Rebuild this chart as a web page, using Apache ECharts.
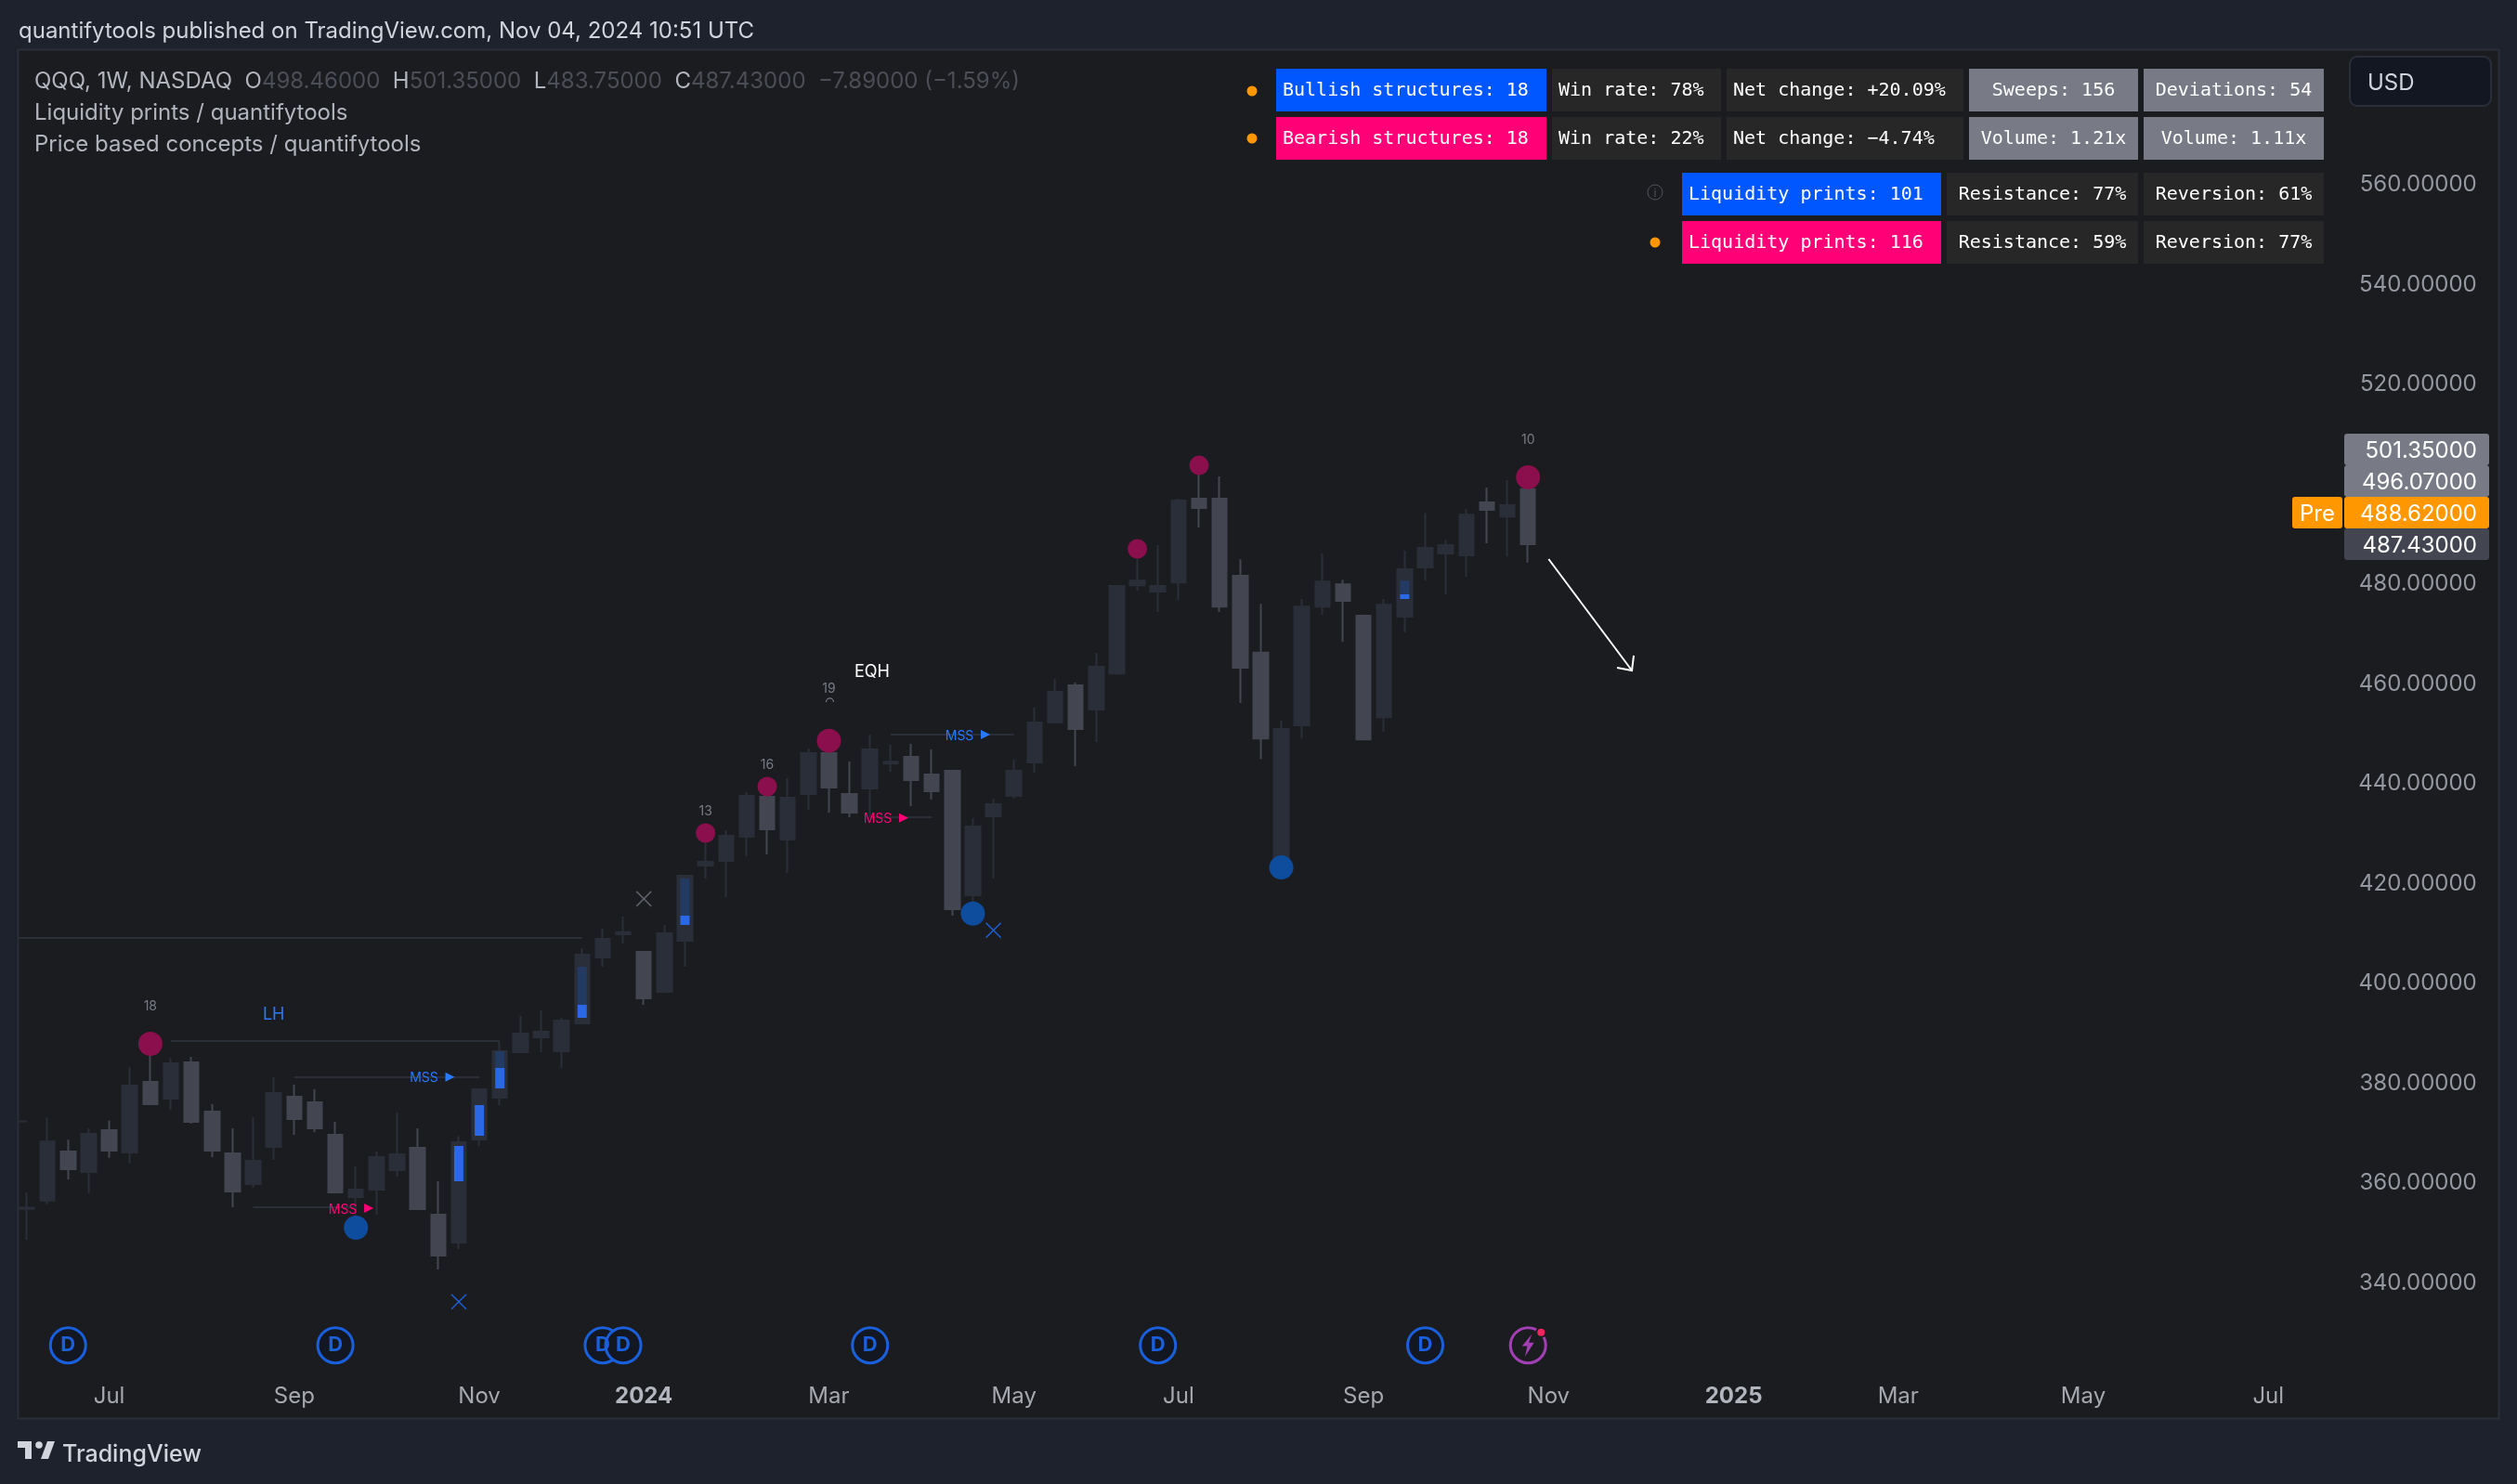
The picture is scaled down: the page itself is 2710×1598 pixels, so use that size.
<!DOCTYPE html>
<html>
<head>
<meta charset="utf-8">
<title>QQQ 1W</title>
<style>html,body{margin:0;padding:0;background:#1e222d}#chart{width:2710px;height:1598px}</style>
<script src="https://cdn.jsdelivr.net/npm/echarts@6/dist/echarts.min.js"></script>
</head>
<body>
<div id="chart"></div>
<script>
// ---------- categories (weekly bars, first entry only carries the clipped stub on the left edge)
const weekDates = [
'2023-05-29','2023-06-05','2023-06-12','2023-06-19','2023-06-26','2023-07-03','2023-07-10','2023-07-17','2023-07-24','2023-07-31',
'2023-08-07','2023-08-14','2023-08-21','2023-08-28','2023-09-04','2023-09-11','2023-09-18','2023-09-25','2023-10-02','2023-10-09',
'2023-10-16','2023-10-23','2023-10-30','2023-11-06','2023-11-13','2023-11-20','2023-11-27','2023-12-04','2023-12-11','2023-12-18','2023-12-25',
'2024-01-01','2024-01-08','2024-01-15','2024-01-22','2024-01-29','2024-02-05','2024-02-12','2024-02-19','2024-02-26','2024-03-04',
'2024-03-11','2024-03-18','2024-03-25','2024-04-01','2024-04-08','2024-04-15','2024-04-22','2024-04-29','2024-05-06','2024-05-13',
'2024-05-20','2024-05-27','2024-06-03','2024-06-10','2024-06-17','2024-06-24','2024-07-01','2024-07-08','2024-07-15','2024-07-22',
'2024-07-29','2024-08-05','2024-08-12','2024-08-19','2024-08-26','2024-09-02','2024-09-09','2024-09-16','2024-09-23','2024-09-30',
'2024-10-07','2024-10-14','2024-10-21','2024-10-28','2024-11-04','2024-11-11','2024-11-18','2024-11-25','2024-12-02','2024-12-09',
'2024-12-16','2024-12-23','2024-12-30','2025-01-06','2025-01-13','2025-01-20','2025-01-27','2025-02-03','2025-02-10','2025-02-17',
'2025-02-24','2025-03-03','2025-03-10','2025-03-17','2025-03-24','2025-03-31','2025-04-07','2025-04-14','2025-04-21','2025-04-28',
'2025-05-05','2025-05-12','2025-05-19','2025-05-26','2025-06-02','2025-06-09','2025-06-16','2025-06-23','2025-06-30','2025-07-07',
'2025-07-14','2025-07-21','2025-07-28'];

// ---------- tick labels
const xTickLabels = {'2023-07-03':'Jul','2023-09-04':'Sep','2023-11-06':'Nov','2024-01-01':'2024','2024-03-04':'Mar','2024-05-06':'May','2024-07-01':'Jul','2024-09-02':'Sep','2024-11-04':'Nov','2025-01-06':'2025','2025-03-03':'Mar','2025-05-05':'May','2025-07-07':'Jul'};
const yTickValues = [340,360,380,400,420,440,460,480,520,540,560];

// ---------- OHLC, bars 0..73
const opens = [354.3,355.97,365.77,361.67,370.05,365.58,379.72,376.37,383.63,373.77,365.39,359.26,366.70,376.74,375.63,369.12,356.65,358.14,362.05,366.51,353.12,347.53,368.19,376.56,385.67,388.65,385.86,391.44,404.65,409.3,405.77,397.76,407.99,423.07,423.99,428.83,436.83,428.27,437.39,445.58,437.39,438.51,443.47,444.83,441.30,442.04,417.11,432.93,437.02,443.72,451.72,459.16,454.32,461.55,479.22,477.96,479.78,496.58,496.58,481.10,465.70,423.12,451.17,474.94,479.41,473.12,452.80,472.93,482.80,485.57,485.19,495.82,492.99,498.46];
const closes = [354.5,367.75,362.23,369.30,365.95,378.98,375.25,383.44,371.72,365.95,357.77,363.91,377.49,372.28,370.42,357.58,358.14,364.65,365.21,354.23,344.93,367.63,378.23,385.86,389.39,389.77,391.99,405.21,408.37,409.7,396.46,409.49,421.02,423.81,429.02,437.02,430.32,436.65,445.58,438.69,433.67,446.32,443.84,440.18,437.95,414.32,430.88,435.34,442.04,451.72,457.86,450.41,462.88,479.09,480.16,479.09,496.20,494.69,474.94,462.68,448.53,450.41,474.94,479.97,476.07,448.34,475.32,482.43,486.70,487.27,493.37,494.31,495.26,487.43];
const lows = [348.09,355.22,360.19,357.40,364.53,363.41,375.07,374.14,371.35,364.65,354.60,358.51,364.09,369.12,369.67,357.40,350.51,353.12,360.74,354.23,342.14,346.23,366.88,375.07,385.67,385.67,382.51,391.44,402.79,407.44,395.16,397.76,402.79,420.46,416.74,424.92,425.30,421.58,434.23,433.67,432.74,432.74,441.86,434.97,436.27,413.02,413.45,420.46,436.46,441.67,451.72,442.97,447.81,461.36,478.15,473.87,476.26,490.79,473.87,455.63,444.44,422.68,448.53,473.31,467.90,448.15,449.85,469.78,480.16,477.46,480.92,487.65,485.00,483.75];
const highs = [357.52,372.59,368.12,370.42,371.97,382.63,387.47,384.50,384.74,375.25,370.42,372.65,380.65,379.16,378.23,371.72,362.79,365.77,373.58,370.42,359.81,368.87,378.42,387.78,392.93,394.05,392.56,406.51,410.42,412.84,405.95,411.16,421.20,429.58,430.13,437.76,438.88,440.55,446.51,448.06,443.90,449.30,447.25,447.44,446.32,442.04,432.55,436.46,444.27,454.69,460.46,459.72,465.67,479.28,486.51,487.27,496.58,503.24,501.04,484.44,475.51,452.05,476.45,485.57,480.29,473.31,476.45,486.14,493.68,488.27,494.50,498.78,500.29,501.35];

// ---------- overlay marks [bar, price, ...]
const redPrints = [[6,387.35,26],[33,429.58,21],[36,438.88,21],[39,448.06,26],[54,486.51,21],[57,503.24,21],[73,500.85,26]];
const bluePrints = [[16,350.51,26],[46,413.45,26],[61,422.68,26]];
const innerBright = [[21,359.81,366.88],[22,368.93,375.07],[23,378.42,382.51],[27,392.56,395.16],[32,411.16,413.02],[67,476.45,477.40]];
const innerDim = [[23,382.51,385.86],[27,395.16,402.79],[32,413.02,420.46],[67,477.40,480.16]];
const levelLines = [[-1,0,371.8],[-1,27,408.56],[7,23,387.91],[13,22,380.65],[11,16,354.60],[42,48,449.30],[41,44,432.74]];
const grayCrosses = [[30,416.4]];
const blueCrosses = [[21,335.69],[47,410.10]];
const countLabels = [[6,395.35,'18'],[33,434.4,'13'],[36,443.7,'16'],[39,458.97,'19'],[73,508.84,'10']];
const mssBlue = [[19.31,380.7],[45.35,449.3]];
const mssPink = [[15.36,354.4],[41.37,432.6]];
const wordLabels = [[12,393.8,'LH','#2979ff'],[41.1,462.32,'EQH','#ffffff']];
const arrowLine = [[74,484.47],[78.05,462.14]];
const dividendBars = [2,15,28,29,41,55,68];
const earningsBar = 73;
const eventRowPrice = 326.95;

// ---------- text content
const headerText = 'quantifytools published on TradingView.com, Nov 04, 2024 10:51 UTC';
const legendLine2 = 'Liquidity prints / quantifytools';
const legendLine3 = 'Price based concepts / quantifytools';
const statsRow1 = ['Bullish structures: 18','Win rate: 78%','Net change: +20.09%','Sweeps: 156','Deviations: 54'];
const statsRow2 = ['Bearish structures: 18','Win rate: 22%','Net change: \u22124.74%','Volume: 1.21x','Volume: 1.11x'];
const printsRow1 = ['Liquidity prints: 101','Resistance: 77%','Reversion: 61%'];
const printsRow2 = ['Liquidity prints: 116','Resistance: 59%','Reversion: 77%'];
const priceTags = ['501.35000','496.07000','488.62000','487.43000'];

// ---------- layout
const UI = 'Inter, Roboto, sans-serif';
const MONO = '"DejaVu Sans Mono", monospace';
const band = 22.14;
const gridLeft = 29 - 1.5 * band;
const pxPerUnit = 5.375;
const gridTop = 196 - 20 * pxPerUnit;
const gridHeight = 260 * pxPerUnit;
const bar = i => i + 1;
const textDrop = 3;

const graphic = [];
const rect = (x,y,w,h,fill,z,extra) => graphic.push(Object.assign({type:'rect',shape:{x,y,width:w,height:h,r:(extra&&extra.r)||0},style:{fill,stroke:extra&&extra.stroke,lineWidth:extra&&extra.lw},z,silent:true}));
const text = (x,y,t,font,fill,align,z) => graphic.push({type:'text',x,y:y+1.5,z:z||80,silent:true,style:{text:t,font,fill,align:align||'left',verticalAlign:'middle'}});
const dot = (x,y,r,fill) => graphic.push({type:'circle',shape:{cx:x,cy:y,r},style:{fill},z:80,silent:true});

rect(20,54,2670,1473,'#1b1c1f',-2);
rect(0,54,19,1473,'#1e222d',60);
rect(19.5,53.5,2671,1474,'transparent',61,{stroke:'#2a2e39',lw:2});

text(20,32,headerText,'24px '+UI,'#d1d4dc');
graphic.push({type:'text',x:37,y:88,z:80,silent:true,style:{
  text:'{a|QQQ, 1W, NASDAQ  O}{b|498.46000}{a|  H}{b|501.35000}{a|  L}{b|483.75000}{a|  C}{b|487.43000}{b|  \u22127.89000 (\u22121.59%)}',
  verticalAlign:'middle',font:'24px '+UI,
  rich:{a:{font:'24px '+UI,fill:'#b2b5be'},b:{font:'24px '+UI,fill:'#4c4e57'}}}});
text(37,120,legendLine2,'24px '+UI,'#b2b5be');
text(37,154,legendLine3,'24px '+UI,'#b2b5be');

const BLUE='#0057ff',PINK='#ff0077',CELL='#272727',GREY='#787b86';
const monoFont='20px '+MONO;
const cols=[[1374,291,BLUE],[1671,182,CELL],[1859,255,CELL],[2120,182,GREY],[2308,194,GREY]];
[[statsRow1,74,BLUE],[statsRow2,126,PINK]].forEach(([row,y,head])=>{
  row.forEach((t,i)=>{
    const c=cols[i];
    rect(c[0],y,c[1],46,i===0?head:c[2],70);
    if(i<3) text(c[0]+7,y+22,t,monoFont,'#ffffff','left');
    else text(c[0]+c[1]/2,y+22,t,monoFont,'#ffffff','center');
  });
});
const cols2=[[1811,279],[2096,206],[2308,194]];
[[printsRow1,186,BLUE],[printsRow2,238,PINK]].forEach(([row,y,head])=>{
  row.forEach((t,i)=>{
    const c=cols2[i];
    rect(c[0],y,c[1],46,i===0?head:CELL,70);
    if(i===0) text(c[0]+7,y+22,t,monoFont,'#ffffff','left');
    else text(c[0]+c[1]/2,y+22,t,monoFont,'#ffffff','center');
  });
});
dot(1348,98,5.5,'#ff9800');dot(1348,149,5.5,'#ff9800');dot(1782,261,5.5,'#ff9800');
graphic.push({type:'circle',shape:{cx:1782,cy:207,r:8},style:{fill:'transparent',stroke:'#50535e',lineWidth:1},z:80,silent:true});
text(1782,207,'i','12px '+UI,'#50535e','center');

rect(2530,61,152,53,'#131722',70,{stroke:'#2a2e39',lw:2,r:8});
text(2549,88,'USD','24px '+UI,'#d1d4dc');

const tagFills=['#787b86','#787b86','#ff9800','#434651'];
priceTags.forEach((t,i)=>{
  const y=467+i*34;
  rect(2524,y,156,34,tagFills[i],72,{r:3});
  text(2667,y+17,t,'24px '+UI,'#ffffff','right',82);
});
rect(2468,535,54,34,'#ff9800',72,{r:3});
text(2495,552,'Pre','24px '+UI,'#ffffff','center',82);

// TradingView logo
graphic.push({type:'polygon',z:80,silent:true,shape:{points:[[19,1552],[34,1552],[34,1571],[27,1571],[27,1559],[19,1559]]},style:{fill:'#d1d4dc'}});
graphic.push({type:'polygon',z:80,silent:true,shape:{points:[[51,1552],[59,1552],[52,1571],[44,1571]]},style:{fill:'#d1d4dc'}});
dot(42,1556,3.8,'#d1d4dc');
text(67,1565,'TradingView','500 25px '+UI,'#d1d4dc');

// ---------- custom renderers
// category coords snap to whole bars, so a fractional bar position adds its remainder in bar widths
const coordAt = (api,i,p) => { const f=Math.floor(i), c=api.coord([f,p]); return [c[0]+(i-f)*band, c[1]]; };
const rangeRender = fill => (params,api)=>{
  const a=api.coord([api.value(0),api.value(1)]), b=api.coord([api.value(0),api.value(2)]);
  return {type:'rect',shape:{x:a[0]-5,y:b[1],width:10,height:a[1]-b[1]},style:{fill}};
};
const crossRender = stroke => (params,api)=>{
  const c=api.coord([api.value(0),api.value(1)]),s=8;
  return {type:'group',children:[
    {type:'line',shape:{x1:c[0]-s,y1:c[1]-s,x2:c[0]+s,y2:c[1]+s},style:{stroke,lineWidth:1.5}},
    {type:'line',shape:{x1:c[0]-s,y1:c[1]+s,x2:c[0]+s,y2:c[1]-s},style:{stroke,lineWidth:1.5}}]};
};
const mssRender = fill => (params,api)=>{
  const c=coordAt(api,api.value(0),api.value(1));
  return {type:'group',children:[
    {type:'text',style:{x:c[0],y:c[1]+1.5,text:'MSS',font:'14px '+UI,fill,align:'center',verticalAlign:'middle'}},
    {type:'polygon',shape:{points:[[c[0]+23,c[1]-5],[c[0]+33,c[1]],[c[0]+23,c[1]+5]]},style:{fill}}]};
};
const base = {type:'custom',coordinateSystem:'cartesian2d',clip:true,silent:true,animation:false};

const option = {
  backgroundColor:'#1e222d',
  animation:false,
  graphic:{elements:graphic},
  grid:{left:gridLeft,top:gridTop,width:band*weekDates.length,height:gridHeight,containLabel:false,outerBoundsMode:'none'},
  xAxis:{type:'category',data:weekDates,boundaryGap:true,
    axisLine:{show:false},axisTick:{show:false},splitLine:{show:false},
    axisLabel:{interval:(i,v)=>v in xTickLabels,margin:6,hideOverlap:false,
      formatter:v=>{const t=xTickLabels[v];if(!t)return '';return /^\d+$/.test(t)?'{y|'+t+'}':t;},
      color:'#a6a8b0',fontFamily:UI,fontSize:24,
      rich:{y:{fontFamily:UI,fontSize:24,fontWeight:'bold',color:'#b2b5be'}}}},
  yAxis:{type:'value',position:'right',min:320,max:580,interval:20,scale:true,
    axisLine:{show:false},axisTick:{show:false},splitLine:{show:false},
    axisLabel:{customValues:yTickValues,margin:147,align:'right',verticalAlign:'top',lineHeight:6,color:'#9598a1',fontFamily:UI,fontSize:24,formatter:v=>v.toFixed(5)}},
  series:[
    {type:'candlestick',barWidth:16,silent:true,z:2,
      data:[['-','-','-','-']].concat(opens.map((o,i)=>[o,closes[i],lows[i],highs[i]])),
      itemStyle:{color:'#2a2e39',color0:'#434651',borderColor:'#2a2e39',borderColor0:'#434651',borderWidth:2,borderColorDoji:'#2a2e39'}},
    Object.assign({},base,{z:3,encode:{x:0,y:1},data:innerDim.map(d=>[bar(d[0]),d[1],d[2]]),renderItem:rangeRender('#233a63')}),
    Object.assign({},base,{z:3,encode:{x:0,y:1},data:innerBright.map(d=>[bar(d[0]),d[1],d[2]]),renderItem:rangeRender('#2a68e6')}),
    Object.assign({},base,{z:1,encode:{x:[0,1],y:2},data:levelLines.map(d=>[bar(d[0]),bar(d[1]),d[2]]),
      renderItem:(p,api)=>{const a=api.coord([api.value(0),api.value(2)]),b=api.coord([api.value(1),api.value(2)]);
        return {type:'line',shape:{x1:a[0],y1:a[1],x2:b[0],y2:b[1]},style:{stroke:'#2a2e39',lineWidth:2}};}}),
    {type:'scatter',silent:true,z:4,symbol:'circle',itemStyle:{color:'#8a0f4c',opacity:1},
      symbolSize:(v,p)=>redPrints[p.dataIndex][2],data:redPrints.map(d=>[bar(d[0]),d[1]])},
    {type:'scatter',silent:true,z:4,symbol:'circle',itemStyle:{color:'#0e4c9e',opacity:1},
      symbolSize:(v,p)=>bluePrints[p.dataIndex][2],data:bluePrints.map(d=>[bar(d[0]),d[1]])},
    Object.assign({},base,{z:5,encode:{x:0,y:1},data:grayCrosses.map(d=>[bar(d[0]),d[1]]),renderItem:crossRender('#5d606b')}),
    Object.assign({},base,{z:5,encode:{x:0,y:1},data:blueCrosses.map(d=>[bar(d[0]),d[1]]),renderItem:crossRender('#1f5fd6')}),
    Object.assign({},base,{z:5,encode:{x:0,y:1},data:mssBlue.map(d=>[bar(d[0]),d[1]]),renderItem:mssRender('#2979ff')}),
    Object.assign({},base,{z:5,encode:{x:0,y:1},data:mssPink.map(d=>[bar(d[0]),d[1]]),renderItem:mssRender('#ff0077')}),
    Object.assign({},base,{z:5,encode:{x:0,y:1},data:countLabels.map(d=>[bar(d[0]),d[1]]),
      renderItem:(p,api)=>{const c=api.coord([api.value(0),api.value(1)]);
        return {type:'text',style:{x:c[0],y:c[1]+textDrop,text:countLabels[p.dataIndex][2],font:'14px '+UI,fill:'#787b86',align:'center',verticalAlign:'middle'}};}}),
    Object.assign({},base,{z:5,encode:{x:0,y:1},data:wordLabels.map(d=>[bar(d[0]),d[1]]),
      renderItem:(p,api)=>{const c=coordAt(api,api.value(0),api.value(1)),w=wordLabels[p.dataIndex];
        return {type:'text',style:{x:c[0],y:c[1]+textDrop,text:w[2],font:'18px '+UI,fill:w[3],align:'center',verticalAlign:'middle'}};}}),
    // small arc above the "19" print
    Object.assign({},base,{z:5,encode:{x:0,y:1},data:[[bar(39),456.2]],
      renderItem:(p,api)=>{const c=api.coord([api.value(0),api.value(1)]);
        return {type:'arc',shape:{cx:c[0]+1,cy:c[1]+2,r:4,startAngle:Math.PI,endAngle:2*Math.PI},style:{stroke:'#787b86',fill:'none',lineWidth:1.2}};}}),
    // drawn arrow
    Object.assign({},base,{z:6,encode:{x:0,y:1},data:[[bar(arrowLine[0][0]),arrowLine[0][1],bar(arrowLine[1][0]),arrowLine[1][1]]],
      renderItem:(p,api)=>{
        const a=coordAt(api,api.value(0),api.value(1)),b=coordAt(api,api.value(2),api.value(3));
        return {type:'group',children:[
          {type:'line',shape:{x1:a[0],y1:a[1],x2:b[0],y2:b[1]},style:{stroke:'#ffffff',lineWidth:2}},
          {type:'polyline',shape:{points:[[b[0]-16,b[1]-3],[b[0],b[1]],[b[0]+2,b[1]-16]]},style:{stroke:'#ffffff',fill:'none',lineWidth:2}}]};
      }}),
    // dividend events
    {type:'scatter',silent:true,z:5,symbol:'circle',symbolSize:38,
      itemStyle:{color:'#131722',borderColor:'#1a5fdb',borderWidth:3,opacity:1},
      label:{show:true,position:'inside',formatter:'D',color:'#1a5fdb',fontFamily:UI,fontWeight:'bold',fontSize:22},
      data:dividendBars.map(i=>[bar(i),eventRowPrice])},
    // earnings event
    {type:'scatter',silent:true,z:5,symbol:'circle',symbolSize:38,
      itemStyle:{color:'#1b1c1f',borderColor:'#a33fb5',borderWidth:3,opacity:1},
      data:[[bar(earningsBar),eventRowPrice]]},
    {type:'scatter',silent:true,z:6,symbol:'path://M13 0L0 14H7L4 26L16 10H9Z',symbolSize:[13,24],
      itemStyle:{color:'#a33fb5',opacity:1},data:[[bar(earningsBar),eventRowPrice]]},
    {type:'scatter',silent:true,z:7,symbol:'circle',symbolSize:10,symbolOffset:[14,-14],
      itemStyle:{color:'#f0245f',borderColor:'#1b1c1f',borderWidth:2,opacity:1},data:[[bar(earningsBar),eventRowPrice]]}
  ]
};
const chart = echarts.init(document.getElementById('chart'),null,{width:2710,height:1598});
chart.setOption(option);
</script>
</body>
</html>
